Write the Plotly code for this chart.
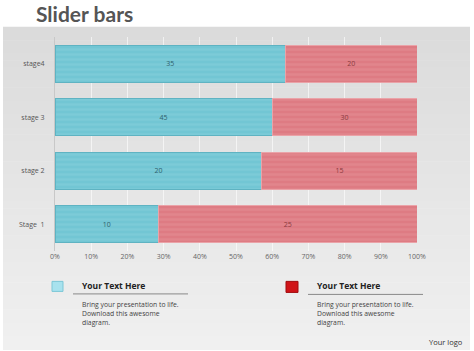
import plotly.graph_objects as go

stages = ["Stage  1", "stage 2", "stage 3", "stage4"]
blue_vals = [10, 20, 45, 35]
red_vals = [25, 15, 30, 20]
x_ticks = [0, 10, 20, 30, 40, 50, 60, 70, 80, 90, 100]
x_tick_labels = [f"{v}%" for v in x_ticks]

fig = go.Figure()
fig.add_trace(go.Bar(
    y=stages, x=blue_vals, orientation="h", name="blue",
    text=[str(v) for v in blue_vals], textposition="inside", insidetextanchor="middle",
    textfont=dict(size=7, color="#2f5f6c", family="Open Sans"),
    marker=dict(color="#72c6d4", line=dict(color="#5fb3c2", width=1),
                pattern=dict(shape="-", fgcolor="#86cfdb", size=5, solidity=0.5)),
    width=0.7, hoverinfo="skip"))
fig.add_trace(go.Bar(
    y=stages, x=red_vals, orientation="h", name="red",
    text=[str(v) for v in red_vals], textposition="inside", insidetextanchor="middle",
    textfont=dict(size=7, color="#8a3a3e", family="Open Sans"),
    marker=dict(color="#de7b83", line=dict(color="#eaa3a8", width=1),
                pattern=dict(shape="-", fgcolor="#e68f96", size=5, solidity=0.5)),
    width=0.7, hoverinfo="skip"))

def px_x(p):
    return (p - 55) / 362
def px_y(p):
    return 1 - (p - 37.3) / 213.4

shapes = []
# panel gradient
top, bottom = 27, 349
n = 48
for i in range(n):
    y0 = top + (bottom - top) * i / n
    y1 = top + (bottom - top) * (i + 1) / n
    c = int(round(0xdb + (0xf0 - 0xdb) * i / (n - 1)))
    shapes.append(dict(type="rect", xref="paper", yref="paper", layer="below",
                       x0=px_x(3), x1=px_x(470), y0=px_y(y0), y1=px_y(y1 + 0.5),
                       fillcolor=f"rgb({c},{c},{c})", line=dict(width=0)))

# legend squares
shapes.append(dict(type="rect", xref="paper", yref="paper", x0=px_x(52), x1=px_x(63), y0=px_y(291), y1=px_y(281),
                   fillcolor="#a8e2ee", line=dict(color="#7cc7d6", width=1)))
shapes.append(dict(type="rect", xref="paper", yref="paper", x0=px_x(286), x1=px_x(298), y0=px_y(292), y1=px_y(281),
                   fillcolor="#d01418", line=dict(color="#a00a0e", width=1)))
# underlines
shapes.append(dict(type="line", xref="paper", yref="paper", x0=px_x(73), x1=px_x(188), y0=px_y(293.5), y1=px_y(293.5),
                   line=dict(color="#8a8a8a", width=1)))
shapes.append(dict(type="line", xref="paper", yref="paper", x0=px_x(308), x1=px_x(423), y0=px_y(294), y1=px_y(294),
                   line=dict(color="#8a8a8a", width=1)))

body = "Bring your presentation to life.<br>Download this awesome<br>diagram."
annotations = [
    dict(text="<b>Slider bars</b>", xref="paper", yref="paper", x=px_x(34), y=px_y(14),
         xanchor="left", yanchor="middle", showarrow=False,
         font=dict(size=21, color="#555555", family="Lato")),
    dict(text="<b>Your Text Here</b>", xref="paper", yref="paper", x=px_x(80), y=px_y(285),
         xanchor="left", yanchor="middle", showarrow=False,
         font=dict(size=8.5, color="#222222", family="Open Sans")),
    dict(text="<b>Your Text Here</b>", xref="paper", yref="paper", x=px_x(315), y=px_y(285),
         xanchor="left", yanchor="middle", showarrow=False,
         font=dict(size=8.5, color="#222222", family="Open Sans")),
    dict(text=body, xref="paper", yref="paper",
         x=px_x(80), y=px_y(297.5), xanchor="left", yanchor="top", align="left", showarrow=False,
         font=dict(size=6.8, color="#444444", family="Open Sans")),
    dict(text=body, xref="paper", yref="paper",
         x=px_x(315), y=px_y(297.5), xanchor="left", yanchor="top", align="left", showarrow=False,
         font=dict(size=6.8, color="#444444", family="Open Sans")),
    dict(text="Your logo", xref="paper", yref="paper", x=px_x(465), y=px_y(341),
         xanchor="right", yanchor="middle", showarrow=False,
         font=dict(size=7.5, color="#333333", family="Open Sans")),
]

fig.update_layout(
    width=474, height=351,
    margin=dict(l=55, r=57, t=37, b=100),
    paper_bgcolor="white", plot_bgcolor="rgba(0,0,0,0)",
    barmode="stack", barnorm="percent", showlegend=False,
    shapes=shapes, annotations=annotations,
    xaxis=dict(range=[0, 100], tickvals=x_ticks, ticktext=x_tick_labels,
               showgrid=True, gridcolor="rgba(255,255,255,0.6)", gridwidth=1,
               zeroline=False, showline=False, ticks="", ticklen=0,
               tickfont=dict(size=7, color="#666666", family="Open Sans"), fixedrange=True),
    yaxis=dict(categoryorder="array", categoryarray=stages, range=[-0.5, 3.5],
               showline=True, linecolor="#c8c8c8", linewidth=1, showgrid=False,
               ticks="", ticklabelstandoff=8,
               tickfont=dict(size=7, color="#555555", family="Open Sans"), fixedrange=True),
)

fig.write_html("out.html")
